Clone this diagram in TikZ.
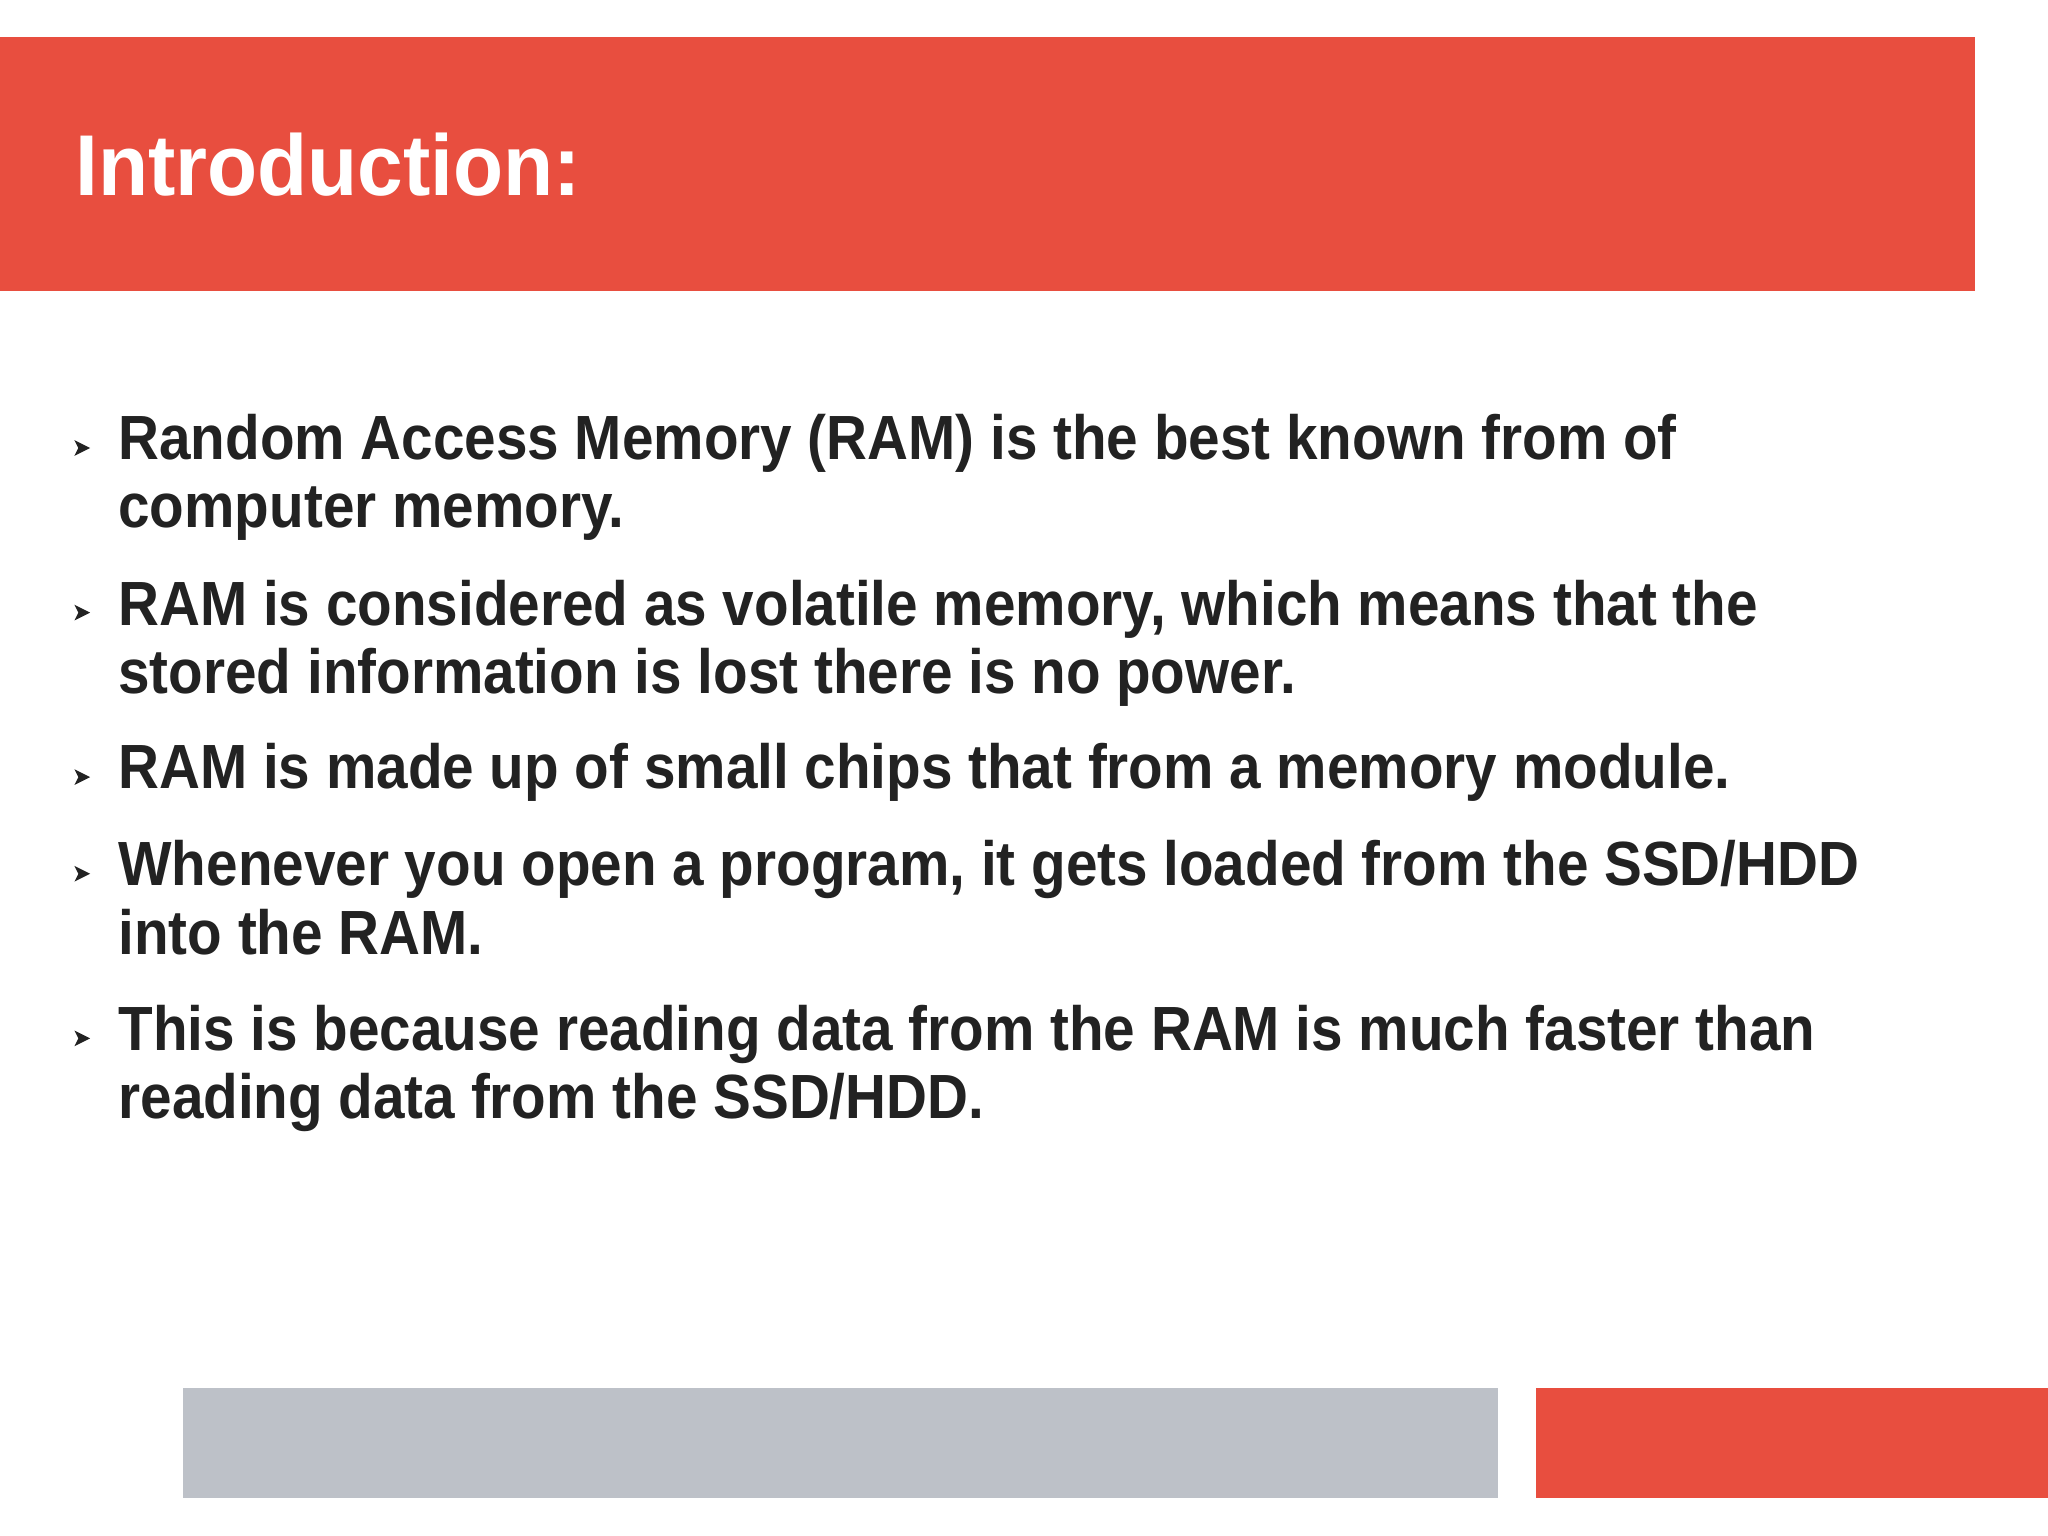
\documentclass[tikz,border=0pt]{standalone}
\usepackage{fontspec}
\setmainfont{Liberation Sans}
\newfontfamily\bodyf[FakeStretch=0.907]{Liberation Sans}
\newfontfamily\titlef[FakeStretch=0.95]{Liberation Sans}
\definecolor{hdr}{HTML}{E84E3F}
\definecolor{bar}{HTML}{BDC1C8}
\definecolor{txt}{HTML}{222222}
\begin{document}
\begin{tikzpicture}[x=0.01cm,y=-0.01cm,
  ln/.style={anchor=base west,inner sep=0,text=txt,font=\bodyf\fontsize{13.6pt}{16pt}\selectfont\bfseries},
  bul/.style={fill=txt}]
\useasboundingbox (0,0) rectangle (1568,1176);
\fill[white] (0,0) rectangle (1568,1176);
\fill[hdr] (0,28) rectangle (1512,223);
\node[anchor=base west,inner sep=0,text=white,font=\titlef\fontsize{18.8pt}{22pt}\selectfont\bfseries] (title) at (57,150) {Introduction:};
\fill[bar] (140,1063) rectangle (1147,1147);
\fill[hdr] (1176,1063) rectangle (1568,1147);
\foreach \y in {343,469,595,669,795}{
  \fill[bul] (57,\y-6) -- (69,\y) -- (57,\y+6) -- (60,\y) -- cycle;
}
\node[ln] (l1) at (90,352) {Random Access Memory (RAM) is the best known from of};
\node[ln] (l2) at (90,404) {computer memory.};
\node[ln] (l3) at (90,479) {RAM is considered as volatile memory, which means that the};
\node[ln] (l4) at (90,531) {stored information is lost there is no power.};
\node[ln] (l5) at (90,604) {RAM is made up of small chips that from a memory module.};
\node[ln] (l6) at (90,678) {Whenever you open a program, it gets loaded from the SSD/HDD};
\node[ln] (l7) at (90,731) {into the RAM.};
\node[ln] (l8) at (90,804) {This is because reading data from the RAM is much faster than};
\node[ln] (l9) at (90,856) {reading data from the SSD/HDD.};
\end{tikzpicture}
\end{document}
